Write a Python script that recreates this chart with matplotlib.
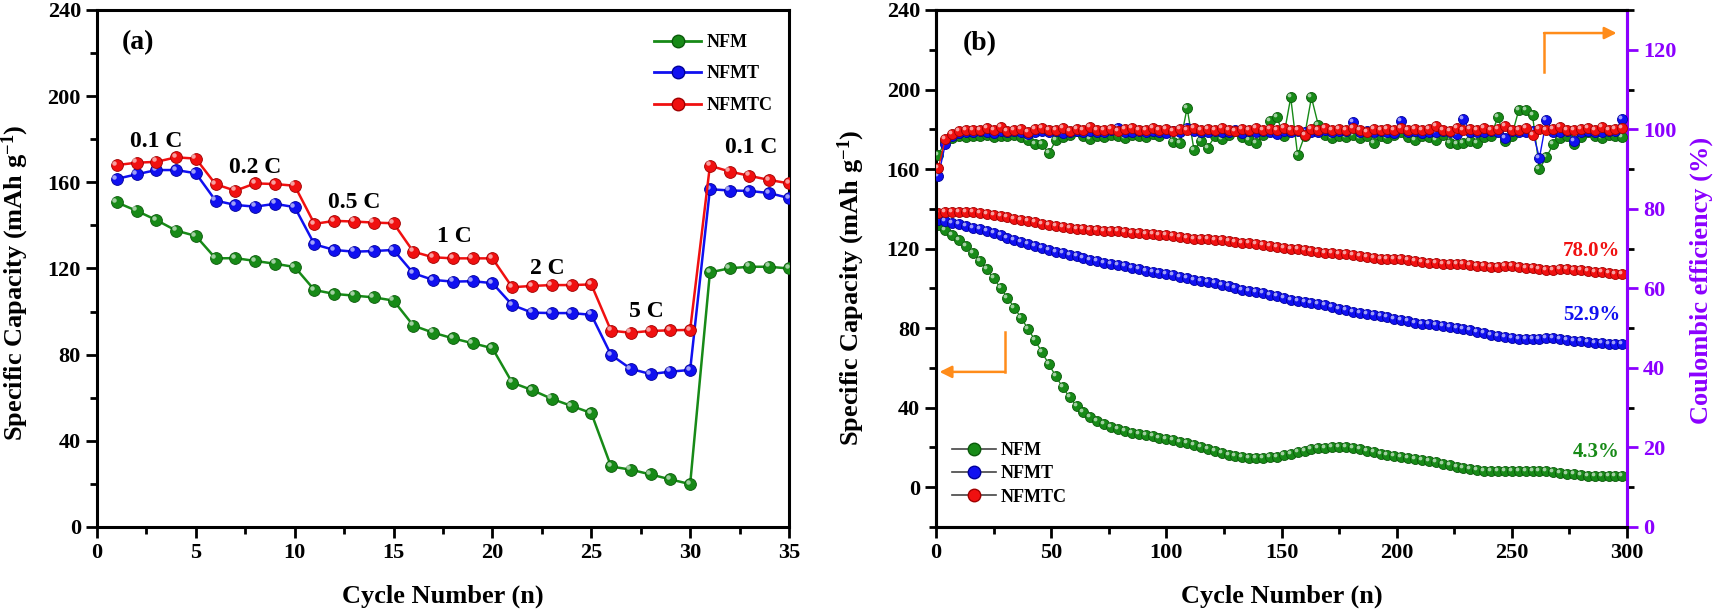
import matplotlib
matplotlib.use('Agg')
import matplotlib.pyplot as plt
from matplotlib.lines import Line2D
from matplotlib.transforms import ScaledTranslation

plt.rcParams['font.family'] = ['Liberation Serif', 'DejaVu Serif']
plt.rcParams['font.weight'] = 'bold'
plt.rcParams['axes.labelweight'] = 'bold'
plt.rcParams['mathtext.fontset'] = 'custom'
plt.rcParams['mathtext.rm'] = 'Liberation Serif:bold'
plt.rcParams['mathtext.default'] = 'rm'

# ---- panel (a): rate capability ----
cycles_a = list(range(1, 36))
nfm_a = [150.7, 146.8, 142.5, 137.6, 135.1, 124.7, 124.8, 123.5, 122.2, 120.7,
         110.0, 108.2, 107.4, 106.6, 105.1, 93.5, 90.2, 87.6, 85.3, 83.0,
         67.0, 63.6, 59.5, 56.2, 52.9, 28.1, 26.6, 24.4, 22.1, 19.9,
         118.2, 120.1, 120.8, 120.8, 120.0]
nfmt_a = [161.6, 163.7, 165.7, 165.7, 164.2, 151.5, 149.5, 148.7, 150.0, 148.5,
          131.2, 128.6, 127.8, 128.1, 128.6, 117.8, 114.7, 113.9, 114.1, 113.2,
          103.1, 99.5, 99.3, 99.3, 98.5, 79.9, 73.4, 71.0, 72.1, 72.9,
          156.8, 156.2, 156.0, 155.0, 152.7]
nfmtc_a = [168.0, 169.1, 169.5, 171.6, 171.0, 159.1, 156.1, 159.5, 159.2, 158.4,
           140.7, 142.1, 141.8, 141.3, 141.0, 127.8, 125.2, 124.7, 124.7, 124.7,
           111.3, 111.9, 112.3, 112.3, 112.6, 91.1, 90.2, 91.0, 91.3, 91.5,
           167.7, 165.0, 163.0, 161.1, 159.5]
rate_labels = ['0.1 C', '0.2 C', '0.5 C', '1 C', '2 C', '5 C', '0.1 C']
rate_x = [3.0, 8.0, 13.0, 18.1, 22.8, 27.8, 33.1]
rate_y = [179, 167, 150.5, 135, 120, 100, 176]

# ---- panel (b): long cycling, every 3rd cycle ----
cycles_b = list(range(1, 300, 3))
nfm_b = [132.0, 129.5, 127.0, 124.5, 121.5, 118.0, 114.0, 109.5, 105.0, 100.2,
         95.3, 90.2, 85.0, 79.5, 73.8, 67.8, 61.8, 55.8, 50.2, 45.2,
         41.0, 37.8, 35.2, 33.2, 31.6, 30.3, 29.2, 28.3, 27.5, 26.8,
         26.2, 25.6, 25.0, 24.4, 23.7, 22.9, 22.0, 21.0, 20.0, 19.0,
         18.0, 17.1, 16.3, 15.6, 15.1, 14.8, 14.7, 14.8, 15.0, 15.4,
         16.0, 16.8, 17.6, 18.4, 19.0, 19.5, 19.8, 20.0, 20.1, 20.0,
         19.6, 19.0, 18.3, 17.6, 16.9, 16.3, 15.8, 15.3, 14.8, 14.3,
         13.7, 13.1, 12.5, 11.8, 11.1, 10.4, 9.7, 9.1, 8.6, 8.3,
         8.1, 8.0, 8.0, 8.1, 8.2, 8.3, 8.3, 8.2, 8.0, 7.7,
         7.3, 6.9, 6.5, 6.1, 5.8, 5.6, 5.5, 5.5, 5.6, 5.8]
nfmt_b = [134.5, 133.8, 133.0, 132.2, 131.4, 130.6, 129.8, 128.8, 127.7, 126.6,
          125.5, 124.4, 123.3, 122.3, 121.3, 120.3, 119.3, 118.4, 117.6, 116.9,
          116.2, 115.4, 114.5, 113.6, 112.8, 112.2, 111.6, 111.0, 110.3, 109.6,
          108.9, 108.3, 107.8, 107.3, 106.6, 105.8, 105.0, 104.3, 103.7, 103.2,
          102.6, 101.9, 101.1, 100.2, 99.4, 98.8, 98.3, 97.7, 96.9, 96.0,
          95.1, 94.3, 93.6, 93.1, 92.6, 92.1, 91.4, 90.6, 89.8, 89.0,
          88.3, 87.8, 87.3, 86.8, 86.2, 85.5, 84.8, 84.1, 83.4, 82.8,
          82.3, 81.9, 81.5, 81.1, 80.6, 80.1, 79.5, 78.9, 78.3, 77.6,
          76.8, 76.1, 75.5, 75.0, 74.7, 74.6, 74.6, 74.7, 74.8, 74.8,
          74.6, 74.2, 73.7, 73.3, 72.9, 72.6, 72.4, 72.2, 72.0, 71.8]
nfmtc_b = [138.0, 138.2, 138.4, 138.4, 138.3, 138.2, 138.0, 137.5, 137.0, 136.4,
           135.8, 135.0, 134.3, 133.7, 133.2, 132.6, 132.0, 131.5, 131.0, 130.6,
           130.1, 129.7, 129.4, 129.2, 129.1, 129.0, 128.7, 128.3, 128.0, 127.7,
           127.5, 127.3, 127.0, 126.6, 126.1, 125.6, 125.2, 125.0, 124.9, 124.8,
           124.5, 124.1, 123.6, 123.2, 122.9, 122.6, 122.3, 121.8, 121.2, 120.6,
           120.2, 120.0, 119.8, 119.4, 118.9, 118.4, 117.9, 117.6, 117.5, 117.4,
           117.0, 116.4, 115.8, 115.2, 114.9, 114.8, 114.8, 114.7, 114.4, 113.9,
           113.4, 112.9, 112.6, 112.5, 112.4, 112.3, 112.2, 111.9, 111.5, 111.1,
           110.9, 110.9, 111.0, 111.0, 110.8, 110.4, 110.0, 109.6, 109.4, 109.4,
           109.5, 109.5, 109.3, 109.0, 108.7, 108.4, 108.1, 107.8, 107.4, 107.0]
# coulombic efficiency (%)
ce_nfm = [93.5, 97.0, 97.8, 98.2, 98.0, 98.4, 98.3, 98.6, 98.1, 98.4,
          98.2, 98.5, 98.0, 97.4, 96.4, 96.2, 94.0, 97.2, 98.1, 98.6,
          99.6, 98.3, 97.6, 98.4, 98.0, 98.6, 98.2, 97.9, 98.5, 98.3,
          98.1, 98.7, 98.3, 99.4, 96.8, 96.5, 105.4, 94.8, 97.1, 95.4,
          98.2, 97.6, 98.5, 99.5, 98.0, 97.4, 96.6, 98.5, 102.2, 103.0,
          98.4, 108.0, 93.5, 98.3, 108.0, 101.0, 98.6, 97.8, 98.4, 98.1,
          98.5, 97.9, 98.3, 96.6, 98.2, 97.7, 98.6, 99.3, 98.0, 97.2,
          98.4, 98.0, 97.3, 98.5, 96.6, 96.4, 96.6, 97.0, 96.5, 98.0,
          98.3, 103.2, 97.1, 98.4, 104.8, 104.8, 103.5, 90.0, 93.0, 96.2,
          97.8, 98.4, 96.3, 98.1, 99.4, 98.3, 97.9, 98.5, 98.2, 98.0]
ce_nfmt = [88.3, 96.2, 98.2, 99.0, 99.3, 99.2, 99.5, 99.4, 99.1, 99.6,
           99.3, 99.5, 99.2, 98.9, 99.4, 99.6, 99.3, 99.5, 99.0, 99.4,
           99.6, 99.3, 99.5, 99.2, 99.4, 99.7, 100.3, 99.4, 99.3, 99.6,
           99.2, 99.5, 99.4, 99.1, 99.6, 99.3, 100.4, 99.5, 99.2, 99.4,
           99.6, 99.3, 99.4, 99.7, 99.1, 99.5, 99.3, 99.6, 99.4, 98.7,
           99.5, 99.3, 99.6, 99.2, 99.2, 99.4, 99.7, 99.3, 99.5, 99.6,
           101.8, 99.2, 99.6, 99.3, 99.5, 99.4, 99.1, 102.0, 99.3, 99.5,
           99.1, 99.4, 99.2, 99.6, 99.3, 98.8, 102.5, 99.4, 99.4, 99.2,
           99.6, 99.3, 97.7, 99.5, 99.4, 99.2, 99.6, 92.8, 102.3, 99.4,
           99.3, 99.5, 97.0, 99.2, 99.6, 99.4, 99.3, 99.5, 99.6, 102.7]
ce_nfmtc = [90.3, 97.6, 98.9, 99.5, 99.7, 99.9, 99.8, 100.3, 99.9, 100.7,
            99.6, 99.9, 100.1, 99.3, 100.0, 100.4, 99.7, 99.9, 100.3, 99.6,
            100.0, 99.8, 100.5, 99.7, 99.9, 100.1, 99.6, 100.0, 100.3, 99.8,
            99.9, 100.2, 99.7, 100.0, 99.5, 100.1, 99.9, 100.4, 99.8, 100.0,
            99.7, 100.2, 99.9, 99.6, 100.1, 99.8, 100.3, 99.9, 100.0, 99.7,
            100.2, 99.8, 99.9, 98.6, 100.1, 99.9, 100.3, 99.7, 100.0, 99.8,
            100.2, 99.9, 99.3, 100.0, 99.8, 100.1, 99.7, 100.2, 99.9, 100.0,
            99.8, 100.1, 100.9, 99.9, 99.6, 100.2, 99.8, 100.0, 99.9, 100.4,
            99.7, 100.0, 100.8, 99.8, 99.9, 100.2, 98.5, 100.0, 99.8, 100.1,
            100.6, 99.9, 99.7, 100.0, 100.2, 99.8, 100.7, 99.9, 100.0, 100.3]
retention = ['4.3%', '52.9%', '78.0%']
ret_y = [17.7, 86.5, 119]

names = ['NFM', 'NFMT', 'NFMTC']
colors = ['#178a17', '#1010f0', '#f01010']
edges = ['#0b5a0b', '#00009a', '#a00000']
purple = '#8B00FF'
orange = '#FF8C1A'

fig = plt.figure(figsize=(17.16, 6.12), dpi=100)
ax_a = fig.add_axes([0.0565, 0.1389, 0.4033, 0.8448])
ax_b = fig.add_axes([0.5455, 0.1389, 0.4026, 0.8448])
ax_c = ax_b.twinx()


def balls(ax, x, y, c, ec, ms, lw, z):
    # coloured spheres with a small offset highlight
    ax.plot(x, y, '-', color=c, lw=lw, marker='o', ms=ms, mfc=c, mec=ec,
            mew=0.6, zorder=z)
    d = ms * 0.2 / 72
    hl = ax.transData + ScaledTranslation(-d, d, fig.dpi_scale_trans)
    ax.plot(x, y, 'o', ms=ms * 0.38, color='white', alpha=0.6, mew=0,
            transform=hl, zorder=z + 0.1)


for ax in (ax_a, ax_b, ax_c):
    for s in ax.spines.values():
        s.set_linewidth(2.2)

# panel a
for i, y in enumerate([nfm_a, nfmt_a, nfmtc_a]):
    balls(ax_a, cycles_a, y, colors[i], edges[i], 8.5, 1.8, 3 + i)
for t, x, y in zip(rate_labels, rate_x, rate_y):
    ax_a.text(x, y, t, ha='center', va='center', fontsize=17, fontweight='bold')
ax_a.text(2.1, 225, '(a)', ha='center', va='center', fontsize=20, fontweight='bold')
ax_a.set_xlim(0, 35)
ax_a.set_ylim(0, 240)
ax_a.set_xticks(range(0, 36, 5))
ax_a.set_xticks([2.5 + 5 * k for k in range(7)], minor=True)
ax_a.set_yticks(range(0, 241, 40))
ax_a.set_yticks(range(20, 240, 40), minor=True)
ax_a.set_xlabel('Cycle Number (n)', fontsize=19)
ax_a.set_ylabel('Specific Capacity (mAh g$^{-1}$)', fontsize=19)
ax_a.xaxis.set_label_coords(0.5, -0.112)
ax_a.yaxis.set_label_coords(-0.095, 0.472)
h_a = [Line2D([], [], color=colors[i], lw=2, marker='o', ms=9, mfc=colors[i],
              mec=edges[i]) for i in range(3)]
ax_a.legend(h_a, names, loc='upper right', bbox_to_anchor=(1.0, 0.985),
            frameon=False, fontsize=13, handlelength=2.6, labelspacing=0.8,
            handletextpad=0.3)

# panel b
for i, y in enumerate([nfm_b, nfmt_b, nfmtc_b]):
    balls(ax_b, cycles_b, y, colors[i], edges[i], 7.2, 1.0, 3 + i)
for i, ce in enumerate([ce_nfm, ce_nfmt, ce_nfmtc]):
    balls(ax_c, cycles_b, ce, colors[i], edges[i], 7.2, 1.0, 3 + i)
for i in range(3):
    ax_b.text(297, ret_y[i], retention[i], ha='right', va='center',
              fontsize=15, fontweight='bold', color=colors[i])
ax_b.text(19, 223, '(b)', ha='center', va='center', fontsize=20, fontweight='bold')
# orange guide arrows
ax_b.plot([30, 30], [78, 58], color=orange, lw=1.8, zorder=6)
ax_b.annotate('', xy=(1.5, 58), xytext=(30, 58), zorder=6,
              arrowprops=dict(arrowstyle='-|>', color=orange, lw=1.8,
                              mutation_scale=18, shrinkA=0, shrinkB=0))
ax_b.plot([264, 264], [209, 228.4], color=orange, lw=1.8, zorder=6)
ax_b.annotate('', xy=(295.5, 228.4), xytext=(264, 228.4), zorder=6,
              arrowprops=dict(arrowstyle='-|>', color=orange, lw=1.8,
                              mutation_scale=18, shrinkA=0, shrinkB=0))

ax_b.set_xlim(0, 300)
ax_b.set_ylim(-20, 240)
ax_b.set_xticks(range(0, 301, 50))
ax_b.set_xticks(range(25, 300, 50), minor=True)
ax_b.set_yticks(range(0, 241, 40))
ax_b.set_yticks(range(-20, 240, 40), minor=True)
ax_b.set_xlabel('Cycle Number (n)', fontsize=19)
ax_b.set_ylabel('Specific Capacity (mAh g$^{-1}$)', fontsize=19)
ax_b.xaxis.set_label_coords(0.5, -0.112)
ax_b.yaxis.set_label_coords(-0.1, 0.462)
h_b = [Line2D([], [], color='#444444', lw=1.2, marker='o', ms=9, mfc=colors[i],
              mec=edges[i]) for i in range(3)]
ax_b.legend(h_b, names, loc='lower left', bbox_to_anchor=(0.0, 0.01),
            frameon=False, fontsize=13, handlelength=2.4, labelspacing=0.35,
            handletextpad=0.3)

ax_c.set_ylim(0, 130)
ax_c.set_yticks(range(0, 121, 20))
ax_c.set_yticks(range(10, 131, 20), minor=True)
ax_c.spines['right'].set_color(purple)
ax_c.set_ylabel('Coulombic efficiency (%)', fontsize=19, color=purple)
ax_c.yaxis.set_label_coords(1.09, 0.476)

for ax in (ax_a, ax_b):
    ax.tick_params(which='both', direction='out', width=2, labelsize=16,
                   top=False, right=False)
    ax.tick_params(which='major', length=8)
    ax.tick_params(which='minor', length=5)
ax_c.tick_params(which='both', direction='out', width=2, labelsize=16,
                 colors=purple)
ax_c.tick_params(which='major', length=8)
ax_c.tick_params(which='minor', length=5, color='black')

fig.savefig('out.png', dpi=100)
